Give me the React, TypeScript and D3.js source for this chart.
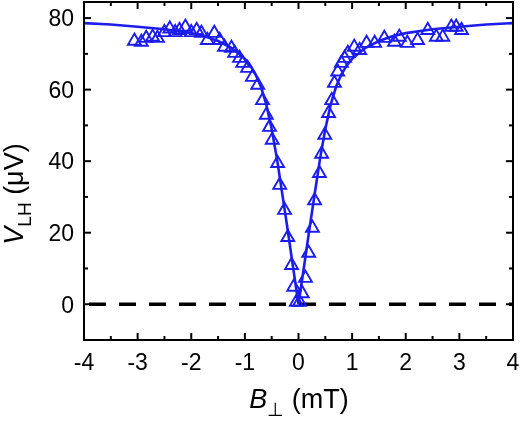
import * as d3 from 'd3'

const W = 520, H = 424
const M = { top: 2, right: 7, bottom: 84, left: 84 }

// measured points (B in mT, V in µV)
const bData = [
  -3.06, -2.93, -2.84, -2.72, -2.63, -2.5, -2.4, -2.3, -2.22, -2.11, -2.0, -1.9, -1.81, -1.7,
  -1.57, -1.47, -1.38, -1.25, -1.19, -1.1, -1.04, -0.95, -0.86, -0.76, -0.67, -0.6, -0.54,
  -0.49, -0.39, -0.35, -0.26, -0.2, -0.13, -0.09, -0.04,
  0.02, 0.07, 0.13, 0.19, 0.26, 0.3, 0.39, 0.43, 0.49, 0.56, 0.62, 0.67, 0.73, 0.8, 0.86,
  0.92, 1.04, 1.14, 1.27, 1.42, 1.6, 1.79, 1.88, 2.03, 2.22, 2.41, 2.57, 2.69, 2.85, 2.94, 3.04,
]
const vData = [
  73.6, 73.3, 74.4, 74.7, 74.4, 76, 77, 76, 76.6, 77.5, 76, 76.6, 75.8, 73.8,
  75.8, 73.8, 71.9, 71.6, 70.2, 68.8, 67.4, 66, 63.5, 61.3, 57, 52.9, 49.5,
  45.9, 39.4, 33.3, 26.3, 18.7, 10.9, 4.8, 0.6,
  0.6, 3, 7.3, 14.3, 21.3, 29, 36.6, 42, 47.3, 53.4, 57, 61.8, 65, 67.4, 68.8,
  70.2, 71.9, 71, 73, 73, 74.4, 73.3, 74.7, 73, 73.8, 76.6, 74.7, 74.7, 77.5, 77.5, 76.6,
]

// fitted curve
const bFit = [
  -4, -3.5, -3, -2.5, -2, -1.75, -1.5, -1.25, -1, -0.9, -0.8, -0.7, -0.6, -0.5, -0.4, -0.3, -0.2, -0.1, 0,
  0.1, 0.2, 0.3, 0.4, 0.5, 0.6, 0.7, 0.8, 0.9, 1, 1.25, 1.5, 1.75, 2, 2.5, 3, 3.5, 4,
]
const vFit = [
  78.6, 78.2, 77.6, 76.9, 75.8, 74.9, 73.6, 71.7, 68.6, 66.8, 64.3, 60.8, 55.8, 49, 40.5, 30.6, 20.6, 10.2, 0,
  10.2, 20.6, 30.6, 40.5, 49, 55.8, 60.8, 64.3, 66.8, 68.6, 71.7, 73.6, 74.9, 75.8, 76.9, 77.6, 78.2, 78.6,
]

const xMajor = [-4, -3, -2, -1, 0, 1, 2, 3, 4]
const xMinor = [-3.5, -2.5, -1.5, -0.5, 0.5, 1.5, 2.5, 3.5]
const yMajor = [0, 20, 40, 60, 80]
const yMinor = [10, 30, 50, 70]

const BLUE = '#1c1cec'
const FONT = 'Liberation Sans, Arial, sans-serif'

export default function App() {
  const iw = W - M.left - M.right
  const ih = H - M.top - M.bottom
  const x = d3.scaleLinear().domain([-4, 4]).range([0, iw])
  const y = d3.scaleLinear().domain([-10, 84.5]).range([ih, 0])

  const fitLine = d3.line<number>()
    .x((_, i) => x(bFit[i]))
    .y(d => y(d))(vFit)

  const tri = d3.symbol(d3.symbolTriangle, 72)()!

  return (
    <svg width={W} height={H} style={{ position: 'fixed', left: 0, top: 0 }} fontFamily={FONT}>
      <g transform={`translate(${M.left},${M.top})`}>
        {/* zero reference */}
        <line x1={0} x2={iw} y1={y(0)} y2={y(0)} stroke="#000" strokeWidth={3.5} strokeDasharray="17 13" strokeDashoffset={-5} />

        {/* data */}
        {vData.map((v, i) => (
          <path key={i} d={tri} transform={`translate(${x(bData[i])},${y(v)})`}
            fill="none" stroke={BLUE} strokeWidth={1.9} />
        ))}
        <path d={fitLine!} fill="none" stroke={BLUE} strokeWidth={2.6} />

        {/* frame */}
        <rect x={0} y={0} width={iw} height={ih} fill="none" stroke="#000" strokeWidth={2} />

        {/* x ticks bottom & top */}
        {xMajor.map(t => (
          <g key={'xm' + t}>
            <line x1={x(t)} x2={x(t)} y1={ih} y2={ih - 7} stroke="#000" strokeWidth={2} />
            <line x1={x(t)} x2={x(t)} y1={0} y2={7} stroke="#000" strokeWidth={2} />
            <text x={x(t)} y={ih + 30} textAnchor="middle" fontSize={23}>{t}</text>
          </g>
        ))}
        {xMinor.map(t => (
          <g key={'xn' + t}>
            <line x1={x(t)} x2={x(t)} y1={ih} y2={ih - 4} stroke="#000" strokeWidth={2} />
            <line x1={x(t)} x2={x(t)} y1={0} y2={4} stroke="#000" strokeWidth={2} />
          </g>
        ))}

        {/* y ticks left & right */}
        {yMajor.map(t => (
          <g key={'ym' + t}>
            <line x1={0} x2={7} y1={y(t)} y2={y(t)} stroke="#000" strokeWidth={2} />
            <line x1={iw} x2={iw - 7} y1={y(t)} y2={y(t)} stroke="#000" strokeWidth={2} />
            <text x={-10} y={y(t)} dy="0.36em" textAnchor="end" fontSize={23}>{t}</text>
          </g>
        ))}
        {yMinor.map(t => (
          <g key={'yn' + t}>
            <line x1={0} x2={4} y1={y(t)} y2={y(t)} stroke="#000" strokeWidth={2} />
            <line x1={iw} x2={iw - 4} y1={y(t)} y2={y(t)} stroke="#000" strokeWidth={2} />
          </g>
        ))}
      </g>

      {/* axis titles */}
      <text x={299} y={408} textAnchor="middle" fontSize={27}>
        <tspan fontStyle="italic">B</tspan>
        <tspan dy={8} fontSize={19}>⊥</tspan>
        <tspan dy={-8}> (mT)</tspan>
      </text>
      <text transform="translate(23,194) rotate(-90)" textAnchor="middle" fontSize={27}>
        <tspan fontStyle="italic">V</tspan>
        <tspan dy={8} fontSize={19}>LH</tspan>
        <tspan dy={-8}> (μV)</tspan>
      </text>
    </svg>
  )
}
